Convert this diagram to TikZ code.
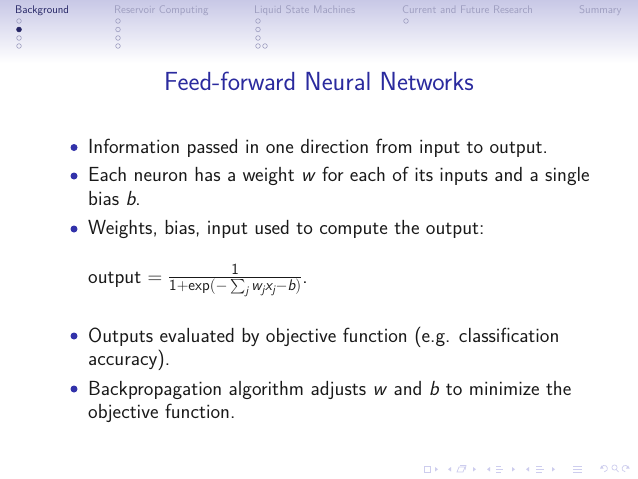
\RequirePackage{fix-cm}
\documentclass[tikz,border=0pt]{standalone}
\usepackage{amsmath}
\usepackage{fontspec}
\usepackage{xcolor}
\DeclareMathSizes{20.4}{20.4}{15.4}{11.5}
\definecolor{beamerblue}{RGB}{42,42,158}
\definecolor{bulletblue}{RGB}{50,50,170}
\definecolor{navdark}{RGB}{36,36,100}
\definecolor{navfade}{RGB}{158,158,192}
\definecolor{navsym}{RGB}{205,205,238}
\definecolor{headtop}{RGB}{200,200,230}
\newcommand{\slv}[1]{\text{\sffamily\slshape #1}}
\newcommand{\upv}[1]{\text{\sffamily\upshape #1}}
\tikzset{
  x=1pt,y=-1pt,
  navtext/.style={anchor=base west,inner sep=0pt,font=\sffamily\fontsize{11.1}{12}\selectfont,text=navfade},
  navactive/.style={navtext,text=navdark},
  navdot/.style={circle,draw=navfade,line width=0.6pt,inner sep=0pt,minimum size=4.6pt},
  navdotactive/.style={circle,draw=navdark,fill=navdark,inner sep=0pt,minimum size=5pt},
  titletext/.style={anchor=base,inner sep=0pt,font=\sffamily\fontsize{26.2}{30}\selectfont,text=beamerblue},
  bodytext/.style={anchor=base west,inner sep=0pt,font=\sffamily\fontsize{20.4}{24}\selectfont,text=black!90},
  bulletdot/.style={circle,fill=bulletblue,inner sep=0pt,minimum size=7pt},
  sym/.style={draw=navsym,line width=0.7pt},
  symf/.style={fill=navsym},
}
\begin{document}
\begin{tikzpicture}
\useasboundingbox (0,0) rectangle (638,479);
\fill[white] (0,0) rectangle (638,479);
\shade[top color=headtop,bottom color=white] (0,0) rectangle (638,63);
% navigation
\node[navactive] (n1) at (15,13) {Background};
\node[navtext] (n2) at (114,13) {Reservoir Computing};
\node[navtext] (n3) at (254,13) {Liquid State Machines};
\node[navtext] (n4) at (402,13) {Current and Future Research};
\node[navtext] (n5) at (579,13) {Summary};
\node[navdot] (d11) at (19,21) {};
\node[navdotactive] (d12) at (19,29.5) {};
\node[navdot] (d13) at (19,38) {};
\node[navdot] (d14) at (19,46) {};
\node[navdot] (d21) at (118,21) {};
\node[navdot] (d22) at (118,29.5) {};
\node[navdot] (d23) at (118,38) {};
\node[navdot] (d24) at (118,46) {};
\node[navdot] (d31) at (258,21) {};
\node[navdot] (d32) at (258,29.5) {};
\node[navdot] (d33) at (258,38) {};
\node[navdot] (d34) at (258,46) {};
\node[navdot] (d35) at (265,46) {};
\node[navdot] (d41) at (406,21) {};
% title
\node[titletext] (title) at (319,90) {Feed-forward Neural Networks};
% body
\node[bulletdot] (b1) at (74,147.5) {};
\node[bodytext] (t1) at (88,153) {Information passed in one direction from input to output.};
\node[bulletdot] (b2) at (74,176) {};
\node[bodytext] (t2a) at (88,181.5) {Each neuron has a weight \textsl{w} for each of its inputs and a single};
\node[bodytext] (t2b) at (88,205) {bias \textsl{b}.};
\node[bulletdot] (b3) at (74,229) {};
\node[bodytext] (t3) at (88,234.5) {Weights, bias, input used to compute the output:};
\node[bodytext] (f) at (88,283) {output $=\frac{\upv{1}}{\upv{1+exp}(-\sum_{\slv{j}}\slv{w}_{\slv{j}}\slv{x}_{\slv{j}}-\slv{b})}$.};
\node[bulletdot] (b4) at (74,336) {};
\node[bodytext] (t4a) at (88,342) {Outputs evaluated by objective function (e.g. classification};
\node[bodytext] (t4b) at (88,365) {accuracy).};
\node[bulletdot] (b5) at (74,389) {};
\node[bodytext] (t5a) at (88,395) {Backpropagation algorithm adjusts \textsl{w} and \textsl{b} to minimize the};
\node[bodytext] (t5b) at (88,418) {objective function.};
% navigation symbols
\draw[sym] (424,466.5) rectangle (430,472);
\fill[symf] (435,467) -- (438,469.3) -- (435,471.5) -- cycle;
\fill[symf] (451,467) -- (448,469.3) -- (451,471.5) -- cycle;
\draw[sym] (457,472) -- (459,467) -- (465,467) -- (463,472) -- cycle;
\draw[sym] (460,465.5) -- (466,465.5) -- (465,470);
\fill[symf] (473,467) -- (476,469.3) -- (473,471.5) -- cycle;
\fill[symf] (490,467) -- (487,469.3) -- (490,471.5) -- cycle;
\draw[sym] (496,466) -- (501,466) (496,469) -- (503,469) (496,472) -- (501,472);
\fill[symf] (512,467) -- (515,469.3) -- (512,471.5) -- cycle;
\fill[symf] (529,467) -- (526,469.3) -- (529,471.5) -- cycle;
\draw[sym] (536,466) -- (542,466) (536,469) -- (544,469) (536,472) -- (542,472);
\fill[symf] (552,467) -- (555,469.3) -- (552,471.5) -- cycle;
\draw[sym] (573,466) -- (582,466) (573,469) -- (582,469) (573,472) -- (582,472);
\draw[sym] (601.5,467) arc (-150:90:3.2);
\fill[symf] (600,468.5) -- (603.5,468.5) -- (601.7,465.5) -- cycle;
\draw[sym] (614.5,467.5) circle (2.6);
\draw[sym] (616.3,469.5) -- (618.5,472);
\draw[sym] (628,467) arc (-30:-270:3.2);
\fill[symf] (626,468.5) -- (629.7,468.5) -- (628,465.5) -- cycle;
\end{tikzpicture}
\end{document}
